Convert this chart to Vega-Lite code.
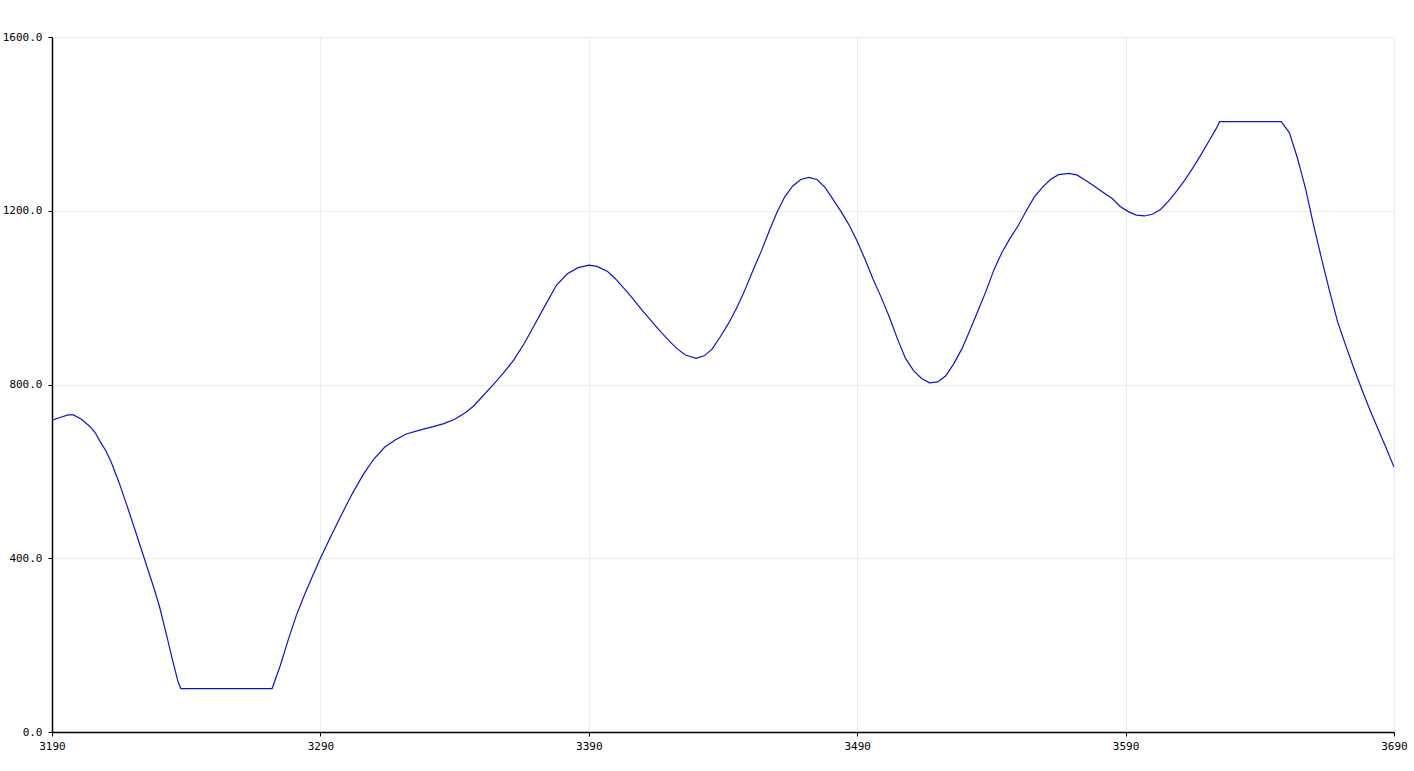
{
  "$schema": "https://vega.github.io/schema/vega-lite/v6.json",
  "width": 1342,
  "height": 695,
  "autosize": {"type": "none"},
  "padding": {"left": 52, "top": 37, "right": 20, "bottom": 39},
  "background": "white",
  "data": {
    "values": [
      {"x": 3190, "y": 718}, {"x": 3193, "y": 724}, {"x": 3196, "y": 730}, {"x": 3198, "y": 730},
      {"x": 3201, "y": 720}, {"x": 3204, "y": 704}, {"x": 3206, "y": 690}, {"x": 3208, "y": 668},
      {"x": 3210, "y": 648}, {"x": 3212, "y": 622}, {"x": 3215, "y": 574}, {"x": 3218, "y": 520},
      {"x": 3221, "y": 464}, {"x": 3224, "y": 407}, {"x": 3226, "y": 369}, {"x": 3228, "y": 331},
      {"x": 3230, "y": 290}, {"x": 3233, "y": 215}, {"x": 3235, "y": 163}, {"x": 3237, "y": 115},
      {"x": 3238, "y": 100}, {"x": 3272, "y": 100}, {"x": 3275, "y": 152}, {"x": 3278, "y": 212},
      {"x": 3281, "y": 268}, {"x": 3284, "y": 315}, {"x": 3287, "y": 358}, {"x": 3290, "y": 400},
      {"x": 3294, "y": 452}, {"x": 3298, "y": 502}, {"x": 3302, "y": 550}, {"x": 3306, "y": 593},
      {"x": 3310, "y": 629}, {"x": 3314, "y": 656}, {"x": 3318, "y": 673}, {"x": 3322, "y": 686},
      {"x": 3327, "y": 695}, {"x": 3332, "y": 703}, {"x": 3336, "y": 710}, {"x": 3340, "y": 720},
      {"x": 3344, "y": 735}, {"x": 3347, "y": 750}, {"x": 3350, "y": 770}, {"x": 3354, "y": 797},
      {"x": 3358, "y": 825}, {"x": 3362, "y": 856}, {"x": 3366, "y": 895}, {"x": 3370, "y": 940},
      {"x": 3374, "y": 985}, {"x": 3378, "y": 1029}, {"x": 3382, "y": 1055}, {"x": 3386, "y": 1069},
      {"x": 3390, "y": 1075}, {"x": 3393, "y": 1072}, {"x": 3397, "y": 1060}, {"x": 3400, "y": 1043},
      {"x": 3405, "y": 1008}, {"x": 3410, "y": 970}, {"x": 3416, "y": 927}, {"x": 3420, "y": 900},
      {"x": 3423, "y": 882}, {"x": 3426, "y": 868}, {"x": 3430, "y": 860}, {"x": 3433, "y": 866},
      {"x": 3436, "y": 882}, {"x": 3439, "y": 910}, {"x": 3442, "y": 940}, {"x": 3445, "y": 975},
      {"x": 3448, "y": 1015}, {"x": 3451, "y": 1060}, {"x": 3454, "y": 1103}, {"x": 3457, "y": 1150},
      {"x": 3460, "y": 1195}, {"x": 3463, "y": 1232}, {"x": 3466, "y": 1257}, {"x": 3469, "y": 1272},
      {"x": 3472, "y": 1277}, {"x": 3475, "y": 1272}, {"x": 3478, "y": 1254}, {"x": 3481, "y": 1226},
      {"x": 3484, "y": 1198}, {"x": 3487, "y": 1167}, {"x": 3490, "y": 1130}, {"x": 3493, "y": 1087},
      {"x": 3496, "y": 1041}, {"x": 3499, "y": 1000}, {"x": 3502, "y": 955}, {"x": 3505, "y": 905},
      {"x": 3508, "y": 860}, {"x": 3511, "y": 832}, {"x": 3514, "y": 814}, {"x": 3517, "y": 804},
      {"x": 3520, "y": 806}, {"x": 3523, "y": 820}, {"x": 3526, "y": 848}, {"x": 3529, "y": 882},
      {"x": 3532, "y": 925}, {"x": 3535, "y": 970}, {"x": 3538, "y": 1015}, {"x": 3541, "y": 1065},
      {"x": 3544, "y": 1105}, {"x": 3547, "y": 1137}, {"x": 3550, "y": 1166}, {"x": 3553, "y": 1200},
      {"x": 3556, "y": 1232}, {"x": 3559, "y": 1254}, {"x": 3562, "y": 1272}, {"x": 3565, "y": 1283},
      {"x": 3569, "y": 1286}, {"x": 3572, "y": 1282}, {"x": 3575, "y": 1270}, {"x": 3578, "y": 1258},
      {"x": 3581, "y": 1245}, {"x": 3585, "y": 1228}, {"x": 3588, "y": 1210}, {"x": 3591, "y": 1198},
      {"x": 3594, "y": 1190}, {"x": 3597, "y": 1188}, {"x": 3600, "y": 1192}, {"x": 3603, "y": 1203},
      {"x": 3606, "y": 1222}, {"x": 3609, "y": 1245}, {"x": 3612, "y": 1270}, {"x": 3615, "y": 1298},
      {"x": 3618, "y": 1328}, {"x": 3621, "y": 1360}, {"x": 3624, "y": 1392}, {"x": 3625, "y": 1405},
      {"x": 3648, "y": 1405}, {"x": 3651, "y": 1380}, {"x": 3654, "y": 1322}, {"x": 3657, "y": 1252},
      {"x": 3660, "y": 1168}, {"x": 3663, "y": 1090}, {"x": 3666, "y": 1015}, {"x": 3669, "y": 944},
      {"x": 3672, "y": 890}, {"x": 3675, "y": 838}, {"x": 3678, "y": 789}, {"x": 3681, "y": 742},
      {"x": 3684, "y": 698}, {"x": 3687, "y": 655}, {"x": 3690, "y": 610}
    ]
  },
  "mark": {"type": "line", "color": "#1010d0", "strokeWidth": 1.2, "clip": true},
  "encoding": {
    "x": {
      "field": "x",
      "type": "quantitative",
      "title": null,
      "scale": {"domain": [3190, 3690], "nice": false, "zero": false},
      "axis": {"values": [3190, 3290, 3390, 3490, 3590, 3690], "format": "d", "labelFlush": false, "labelPadding": 4}
    },
    "y": {
      "field": "y",
      "type": "quantitative",
      "title": null,
      "scale": {"domain": [0, 1600], "nice": false},
      "axis": {"values": [0, 400, 800, 1200, 1600], "format": ".1f", "labelFlush": false}
    }
  },
  "config": {
    "view": {"stroke": null},
    "axis": {
      "domainColor": "#000000",
      "domainWidth": 1.5,
      "tickColor": "#000000",
      "tickSize": 4,
      "tickWidth": 1,
      "gridColor": "#ececec",
      "gridWidth": 1,
      "labelFont": "DejaVu Sans Mono",
      "labelFontSize": 11,
      "labelColor": "#000000",
      "labelPadding": 3
    },
    "axisY": {"labelPadding": 6}
  }
}
